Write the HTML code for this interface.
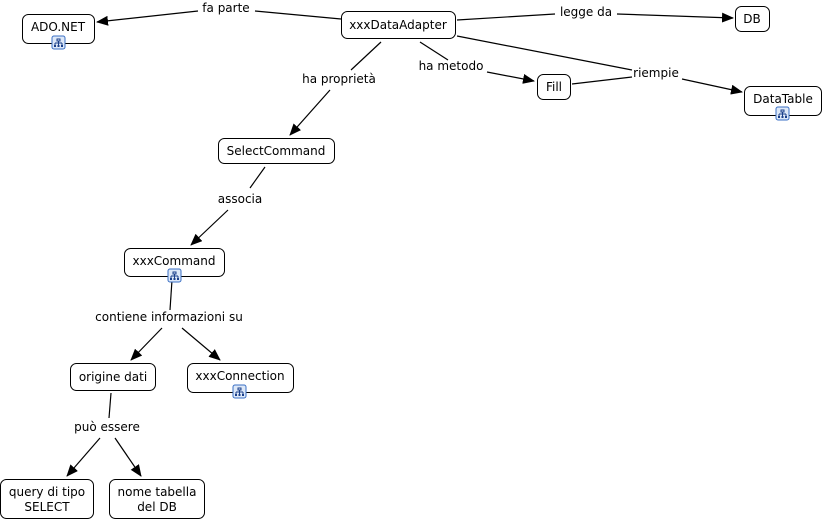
<!DOCTYPE html>
<html><head><meta charset="utf-8"><style>
html,body{margin:0;padding:0;background:#fff;width:824px;height:521px;overflow:hidden}
svg text{font-family:"DejaVu Sans","Liberation Sans",sans-serif;font-size:12px;fill:#000}
</style></head><body>
<svg width="824" height="521" viewBox="0 0 824 521" xmlns="http://www.w3.org/2000/svg">
<defs>
<marker id="a" markerWidth="12" markerHeight="10" refX="11" refY="5" orient="auto" markerUnits="userSpaceOnUse">
<path d="M0,0 L12,5 L0,10 z" fill="#000"/></marker>
<g id="ic"><rect x="0" y="0" width="13" height="13" rx="2" fill="#dde8f8" stroke="#3a6fc4"/>
<path d="M5,3h3v2h-3z M6.5,5v2 M3,7h7 M3,7v2 M10,7v2 M6.5,7v2" stroke="#1a3f8a" fill="none" stroke-width="1"/>
<rect x="2" y="9" width="2" height="2" fill="#1a3f8a"/><rect x="5.5" y="9" width="2" height="2" fill="#1a3f8a"/><rect x="9" y="9" width="2" height="2" fill="#1a3f8a"/></g>
</defs>
<g stroke="#000" stroke-width="1.2" fill="none">
<line x1="341" y1="19" x2="255" y2="11"/><line x1="198" y1="11" x2="97" y2="22" marker-end="url(#a)"/>
<line x1="457" y1="20" x2="555" y2="14"/><line x1="617" y1="14" x2="733" y2="18" marker-end="url(#a)"/>
<line x1="420" y1="42" x2="448" y2="60"/><line x1="487" y1="72" x2="534" y2="81" marker-end="url(#a)"/>
<line x1="457" y1="36" x2="632" y2="70"/><line x1="572" y1="84" x2="632" y2="77"/><line x1="682" y1="79" x2="742" y2="92" marker-end="url(#a)"/>
<line x1="381" y1="42" x2="351" y2="70"/><line x1="330" y1="90" x2="290" y2="135" marker-end="url(#a)"/>
<line x1="265" y1="167" x2="250" y2="188"/><line x1="228" y1="210" x2="191" y2="245" marker-end="url(#a)"/>
<line x1="172" y1="280" x2="170" y2="310"/><line x1="162" y1="328" x2="131" y2="360" marker-end="url(#a)"/><line x1="182" y1="328" x2="220" y2="360" marker-end="url(#a)"/>
<line x1="111" y1="393" x2="109" y2="418"/><line x1="100" y1="438" x2="67" y2="476" marker-end="url(#a)"/><line x1="115" y1="438" x2="141" y2="476" marker-end="url(#a)"/>
</g>
<g fill="#fff" stroke="#000" stroke-width="1">
<rect x="22.5" y="14.5" width="72" height="29" rx="6"/>
<rect x="341.5" y="11.5" width="114" height="27" rx="6"/>
<rect x="735.5" y="6.5" width="34" height="25" rx="6"/>
<rect x="537.5" y="74.5" width="33" height="25" rx="6"/>
<rect x="744.5" y="86.5" width="77" height="29" rx="6"/>
<rect x="218.5" y="138.5" width="116" height="25" rx="6"/>
<rect x="124.5" y="248.5" width="100" height="28" rx="6"/>
<rect x="70.5" y="363.5" width="85" height="27" rx="6"/>
<rect x="187.5" y="363.5" width="106" height="29" rx="6"/>
<rect x="0.5" y="479.5" width="93" height="39" rx="6"/>
<rect x="109.5" y="479.5" width="95" height="39" rx="6"/>
</g>
<use href="#ic" x="52" y="36"/><use href="#ic" x="776" y="107"/><use href="#ic" x="168" y="269"/><use href="#ic" x="233" y="385"/>
<g text-anchor="middle">
<text x="58" y="31">ADO.NET</text>
<text x="398" y="29">xxxDataAdapter</text>
<text x="752" y="23">DB</text>
<text x="554" y="91">Fill</text>
<text x="783" y="103">DataTable</text>
<text x="276" y="155">SelectCommand</text>
<text x="174" y="265">xxxCommand</text>
<text x="113" y="381">origine dati</text>
<text x="240" y="380">xxxConnection</text>
<text x="47" y="496">query di tipo</text><text x="47" y="511">SELECT</text>
<text x="157" y="496">nome tabella</text><text x="157" y="511">del DB</text>
<text x="226" y="12">fa parte</text>
<text x="586" y="16">legge da</text>
<text x="451" y="70">ha metodo</text>
<text x="656" y="77">riempie</text>
<text x="339" y="83">ha proprietà</text>
<text x="240" y="203">associa</text>
<text x="169" y="321">contiene informazioni su</text>
<text x="107" y="431">può essere</text>
</g>
</svg>
</body></html>
